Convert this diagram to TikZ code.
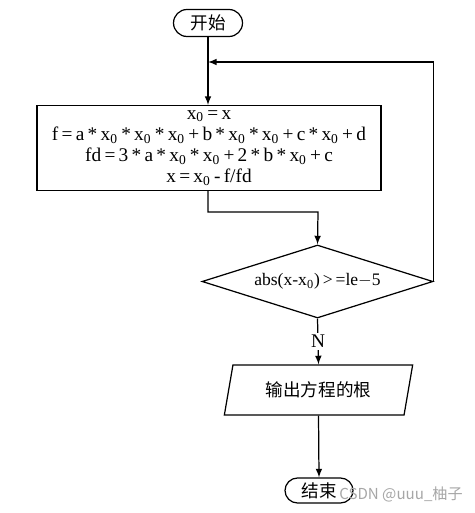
\documentclass[tikz,border=0pt]{standalone}
\usepackage{fontspec}
\setmainfont{Liberation Serif}
\newfontfamily\cjk{Noto Sans CJK SC}
\usepackage{tikz}
\usetikzlibrary{arrows}
\usetikzlibrary{calc}
\usetikzlibrary{positioning}
\usetikzlibrary{shapes.geometric}

\newcommand{\xo}{x\textsubscript{0}}
\newcommand{\tightsp}{\spaceskip=0.17em\relax}

\tikzset{
	term/.style={draw, rounded corners=0.27cm, minimum width=1.38cm, minimum height=0.54cm, inner sep=0pt, font=\cjk\fontsize{10}{12}\selectfont},
	calcbox/.style={draw, minimum width=6.88cm, minimum height=1.7cm, inner sep=0pt, align=center, font=\fontsize{11}{12.1}\selectfont\tightsp},
	testbox/.style={draw, diamond, shape aspect=3.16, minimum width=4.62cm, minimum height=1.46cm, inner sep=0pt, font=\fontsize{10}{12}\selectfont},
	iobox/.style={draw, trapezium, trapezium left angle=72, trapezium right angle=108, trapezium stretches=true, minimum width=3.78cm, minimum height=1cm, inner sep=0pt, font=\cjk\fontsize{10}{12}\selectfont}
}

\begin{document}
\begin{tikzpicture}[x=0.02cm, y=-0.02cm, >=latex, line width=0.7pt]
	\useasboundingbox (0,0) rectangle (474,513);
	
	\node[term] (start) at (208,23) {开始};
	\node[calcbox] (calc) at (209,148) {\xo{} = x\\
		f = a * \xo{} * \xo{} * \xo{} + b * \xo{} * \xo{} + c * \xo{} + d\\
		fd = 3 * a * \xo{} * \xo{} + 2 * b * \xo{} + c\\
		x = \xo{} - f/fd};
	\node[testbox] (test) at (317.5,281.5) {abs(x-\xo)\,>\,=le$-$5};
	\node[iobox] (out) at (318.5,390) {输出方程的根};
	\node[term, minimum width=1.36cm, minimum height=0.5cm, rounded corners=0.25cm] (stop) at (319,490.5) {结束};
	
	\coordinate (join) at (208,62);
	\coordinate (bend) at (318,212);
	
	\draw[->] (start) -- (start |- calc.north);
	\draw[->] (test.east) |- (join);
	\draw[->] (start |- calc.south) |- (bend) -- (test.north);
	\draw[->] (test.south) -- node[fill=white, inner sep=1pt, font=\fontsize{11}{13}\selectfont] {N} (out.north);
	\draw[->] (out.south) -- (stop.north);
	
	\node[text=gray!70, font=\cjk\fontsize{8.6}{10}\selectfont] (mark) at (401,494) {CSDN @uuu\_柚子};
\end{tikzpicture}
\end{document}
